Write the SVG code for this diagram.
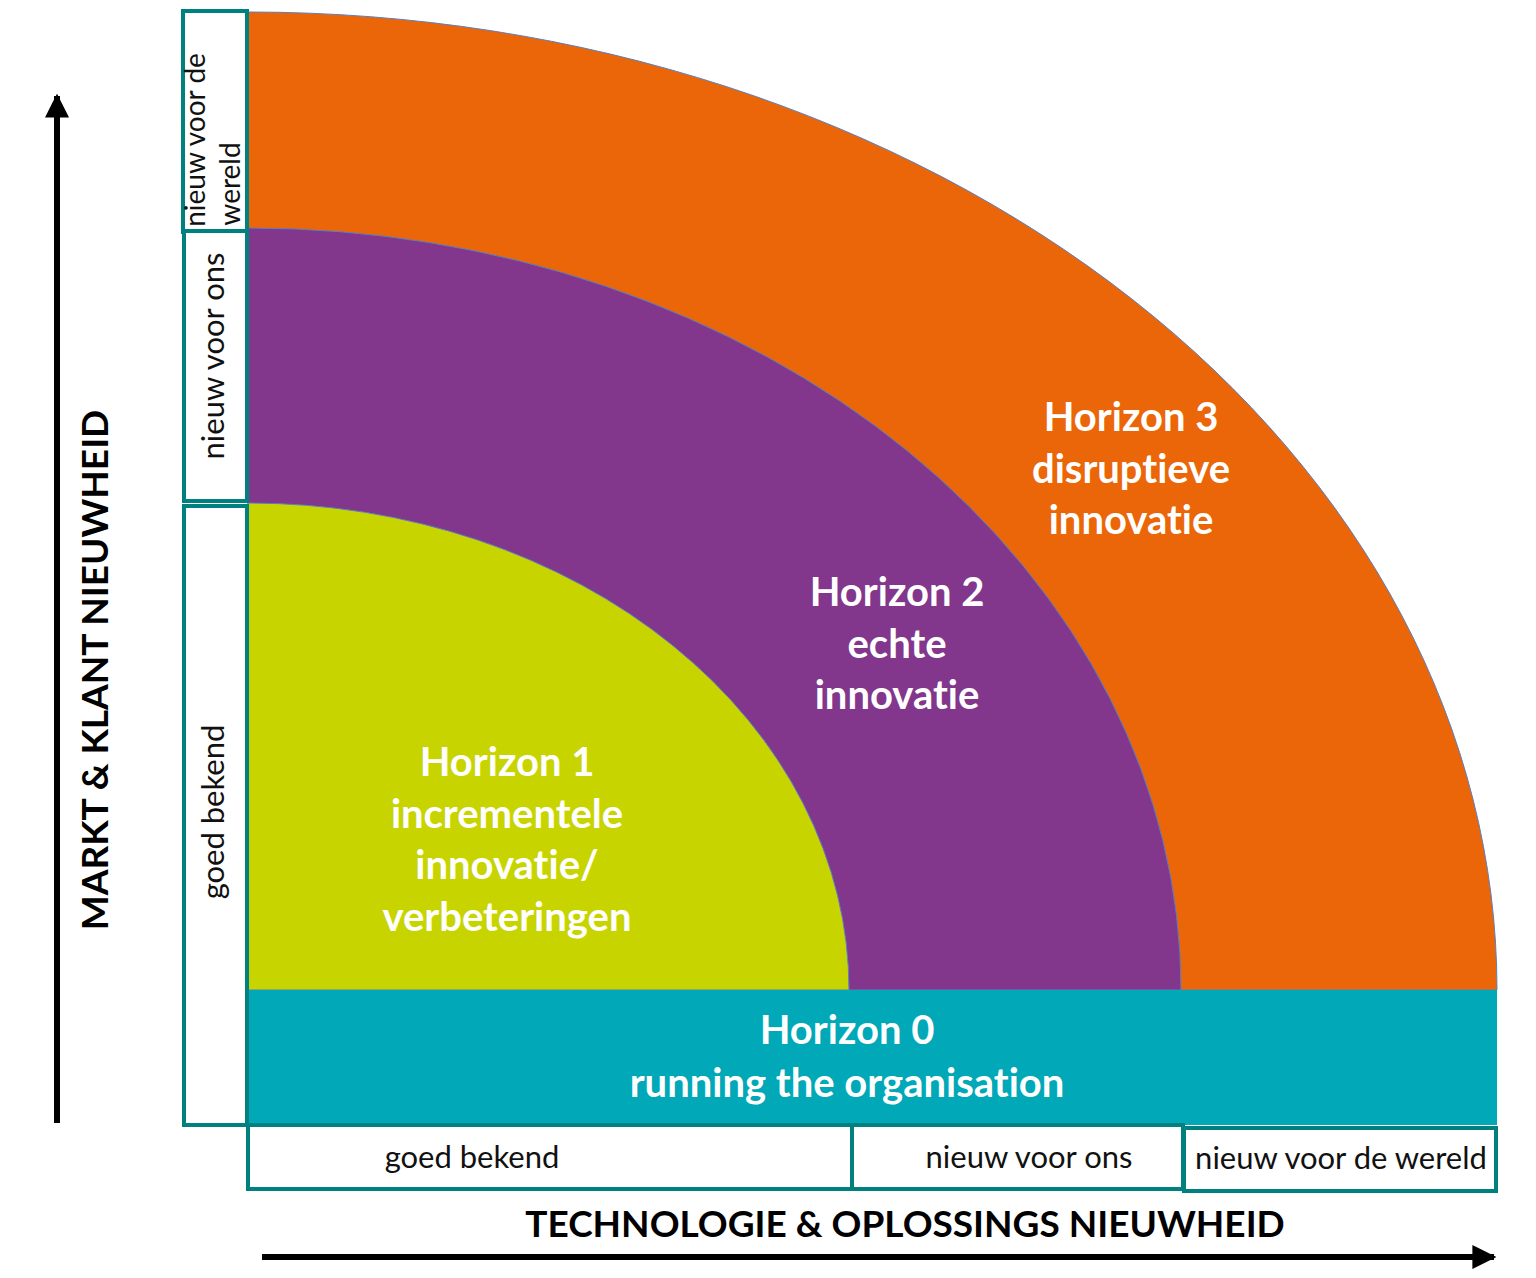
<svg xmlns="http://www.w3.org/2000/svg" width="1536" height="1278" viewBox="0 0 1536 1278">
<defs>
<style>
text{font-variant-ligatures:none;font-feature-settings:"liga" 0,"dlig" 0}
.box{fill:#fff;stroke:#00807f;stroke-width:4}
.h{font-family:Lato,"Open Sans",sans-serif;font-weight:bold;font-size:40px;fill:#fff;text-anchor:middle}
.l{font-family:Lato,"Open Sans",sans-serif;font-size:31px;fill:#111;text-anchor:middle}
.s{font-size:28px}
.ax{font-family:Lato,"Open Sans",sans-serif;font-weight:bold;font-size:37px;fill:#000;text-anchor:middle}
</style>
<marker id="ah" viewBox="0 0 10 10" refX="9" refY="5" markerWidth="4" markerHeight="4" orient="auto" markerUnits="strokeWidth"><path d="M0,0 L10,5 L0,10 z" fill="#000"/></marker>
</defs>
<rect width="1536" height="1278" fill="#fff"/>
<g id="horizon3"><path d="M248,990 L248,12 A1249,978 0 0 1 1497,990 Z" fill="#ea6608" stroke="#5b7fbf" stroke-width="1"/>
<text class="h" x="1131" y="431">Horizon 3</text><text class="h" x="1131" y="483">disruptieve</text><text class="h" x="1131" y="534">innovatie</text></g>
<g id="horizon2"><path d="M248,990 L248,228 A933,762 0 0 1 1181,990 Z" fill="#82368c" stroke="#5b7fbf" stroke-width="1"/>
<text class="h" x="897" y="606">Horizon 2</text><text class="h" x="897" y="658">echte</text><text class="h" x="897" y="709">innovatie</text></g>
<g id="horizon1"><path d="M248,990 L248,503 A601,487 0 0 1 849,990 Z" fill="#c8d400" stroke="#5b7fbf" stroke-width="1"/>
<text class="h" x="507" y="776">Horizon 1</text><text class="h" x="507" y="828">incrementele</text><text class="h" x="507" y="879">innovatie/</text><text class="h" x="507" y="931">verbeteringen</text></g>
<g id="horizon0"><rect x="248" y="990" width="1249" height="135" fill="#00a8b8"/>
<text class="h" x="847" y="1044">Horizon 0</text><text class="h" x="847" y="1097">running the organisation</text></g>
<g id="y-boxes">
<g id="y3"><rect class="box" x="183" y="11" width="64" height="221"/>
<text class="l s" transform="translate(205,140) rotate(-90)">nieuw voor de</text><text class="l s" transform="translate(240,184) rotate(-90)">wereld</text></g>
<g id="y2"><rect class="box" x="184" y="231" width="63" height="270"/>
<text class="l" transform="translate(224,356) rotate(-90)">nieuw voor ons</text></g>
<g id="y1"><rect class="box" x="184" y="506" width="63" height="619"/>
<text class="l" transform="translate(224,812) rotate(-90)">goed bekend</text></g>
</g>
<g id="x-boxes">
<g id="x1"><rect class="box" x="248" y="1125" width="604" height="64"/><text class="l" x="472" y="1168">goed bekend</text></g>
<g id="x2"><rect class="box" x="852" y="1125" width="331" height="64"/><text class="l" x="1029" y="1168">nieuw voor ons</text></g>
<g id="x3"><rect class="box" x="1184" y="1128" width="312" height="63"/><text class="l" x="1341" y="1169">nieuw voor de wereld</text></g>
</g>
<g id="connectors">
<line x1="57" y1="1123" x2="57" y2="96" stroke="#000" stroke-width="6" marker-end="url(#ah)"/>
<line x1="262" y1="1257" x2="1494" y2="1257" stroke="#000" stroke-width="6" marker-end="url(#ah)"/>
</g>
<text class="ax" x="905" y="1237">TECHNOLOGIE &amp; OPLOSSINGS NIEUWHEID</text>
<text class="ax" transform="translate(108,670) rotate(-90)">MARKT &amp; KLANT NIEUWHEID</text>
</svg>
